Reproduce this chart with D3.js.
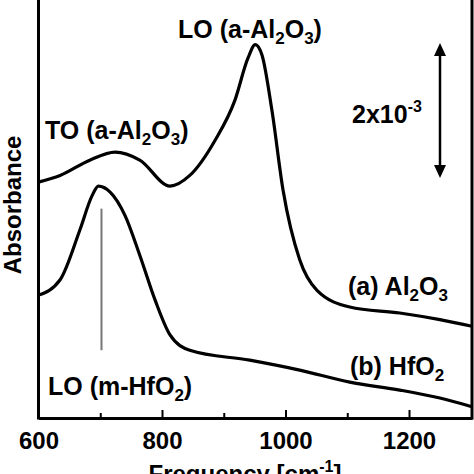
<!DOCTYPE html>
<html>
<head>
<meta charset="UTF-8">
<script src="https://d3js.org/d3.v7.min.js"></script>
<style>
  body { margin:0; background:#fff; }
  text { font-family: "Liberation Sans", Arial, sans-serif; font-weight:bold; fill:#000; }
</style>
</head>
<body>
<svg id="chart" width="474" height="474"></svg>
<script>
// frequency in cm-1, absorbance in units of 1e-3 (offset)
var freqA = [600,635,683,724,764,813,845,886,918,939,951,962,978,996,1023,1051,1104,1185,1250,1302];
var absA  = [3.55,3.65,3.88,4.0,3.88,3.49,3.65,4.18,4.78,5.41,5.62,5.46,4.63,3.43,2.38,1.92,1.67,1.58,1.48,1.38];
var freqB = [600,635,667,687,697,716,740,764,789,813,845,942,1023,1104,1185,1250,1302];
var absB  = [1.85,2.08,2.83,3.35,3.49,3.40,3.05,2.45,1.77,1.25,1.02,0.87,0.72,0.54,0.42,0.30,0.17];
var majorTicks = [600,800,1000,1200];
var minorTicks = [700,900,1100];

var svg = d3.select('#chart');
var left = 38.5, right = 472, bottom = 418;
var x = d3.scaleLinear().domain([600,1302]).range([left,right]);
var y = d3.scaleLinear().domain([0,6.29]).range([bottom,0]);

// axes (ticks inward)
var xAxis = d3.axisBottom(x).tickValues(majorTicks).tickFormat(d3.format('d')).tickSize(-8).tickSizeOuter(0).tickPadding(14);
var g = svg.append('g').attr('transform','translate(0,'+bottom+')').call(xAxis);
g.selectAll('text').style('font-size','24px');
g.select('.domain').attr('stroke-width',3);
g.selectAll('.tick line').attr('stroke-width',2);
svg.append('g').attr('transform','translate(0,'+bottom+')')
  .call(d3.axisBottom(x).tickValues(minorTicks).tickSize(-5).tickFormat(''))
  .call(function(s){ s.select('.domain').remove(); s.selectAll('line').attr('stroke-width',2); });
[left,right].forEach(function(px){
  svg.append('line').attr('x1',px).attr('x2',px).attr('y1',0).attr('y2',bottom+1.5)
    .attr('stroke','#000').attr('stroke-width',3);
});

var line = d3.line().curve(d3.curveMonotoneX).x(function(d){return x(d[0]);}).y(function(d){return y(d[1]);});
[[freqA,absA],[freqB,absB]].forEach(function(s){
  svg.append('path').datum(d3.zip(s[0],s[1])).attr('d',line)
    .attr('fill','none').attr('stroke','#000').attr('stroke-width',3.2);
});

// marker for LO (m-HfO2)
svg.append('line').attr('x1',x(702)).attr('x2',x(702)).attr('y1',y(3.15)).attr('y2',y(1.02))
  .attr('stroke','#777').attr('stroke-width',2);

// scale arrow 2x10-3
var ax = 440;
svg.append('line').attr('x1',ax).attr('x2',ax).attr('y1',52).attr('y2',170).attr('stroke','#000').attr('stroke-width',2.5);
svg.append('path').attr('d','M'+(ax-6)+',56 L'+ax+',43 L'+(ax+6)+',56 Z');
svg.append('path').attr('d','M'+(ax-6)+',165 L'+ax+',178 L'+(ax+6)+',165 Z');

function label(tx, ty, parts) {
  var t = svg.append('text').attr('x',tx).attr('y',ty).style('font-size','25px');
  parts.forEach(function(p){
    var ts = t.append('tspan').text(p[0]);
    if (p[1] === 'sub') ts.style('font-size','17px').attr('dy',6);
    else if (p[1] === 'sup') ts.style('font-size','16px').attr('dy',-11);
    else if (p[1] === 'back') ts.attr('dy',-6);
  });
  return t;
}
label(178,38,[['LO (a-Al'],['2','sub'],['O','back'],['3','sub'],[')','back']]);
label(45,139,[['TO (a-Al'],['2','sub'],['O','back'],['3','sub'],[')','back']]);
label(352,123,[['2x10'],['-3','sup']]);
label(348,295,[['(a) Al'],['2','sub'],['O','back'],['3','sub']]);
label(350,375,[['(b) HfO'],['2','sub']]);
label(48,395,[['LO (m-HfO'],['2','sub'],[')','back']]);

svg.append('text').attr('transform','translate(21,205) rotate(-90)').attr('text-anchor','middle')
  .style('font-size','24px').text('Absorbance');
var xl = svg.append('text').attr('x',245).attr('y',482).attr('text-anchor','middle').style('font-size','24px');
xl.append('tspan').text('Frequency [cm');
xl.append('tspan').text('-1').style('font-size','16px').attr('dy',-10);
xl.append('tspan').text(']').attr('dy',10);
</script>
</body>
</html>
